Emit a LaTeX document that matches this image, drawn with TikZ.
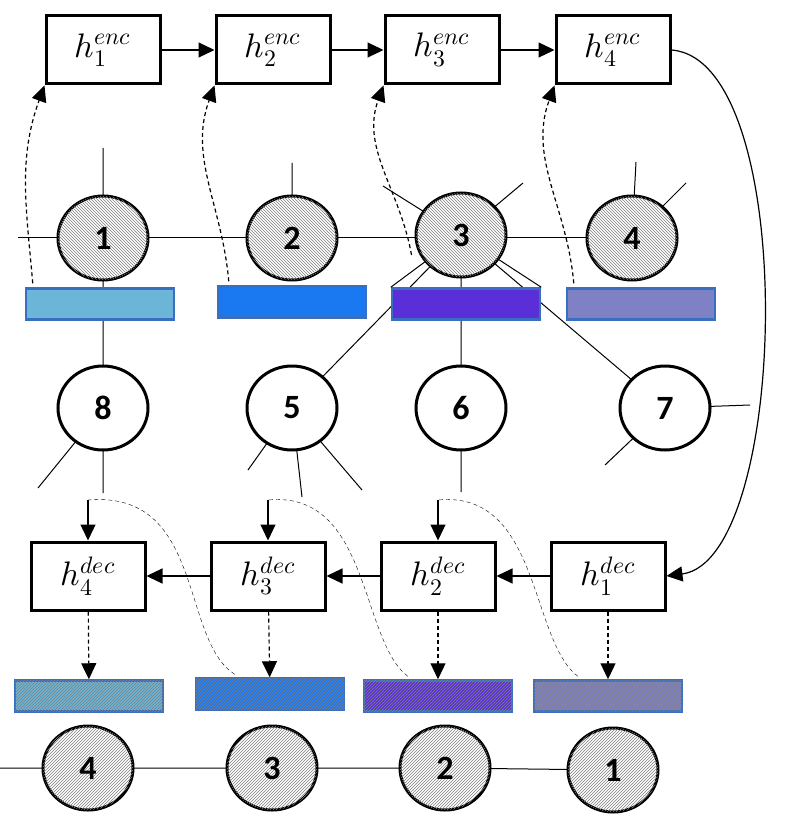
\documentclass[tikz,border=0pt]{standalone}
\usepackage{fontspec}
\usepackage{unicode-math}
\newfontfamily\numfont{Carlito}
\usetikzlibrary{patterns,arrows.meta,shapes.geometric}
\definecolor{barA}{HTML}{6BB5D8}
\definecolor{barB}{HTML}{1A78F0}
\definecolor{barC}{HTML}{5A2FD8}
\definecolor{barD}{HTML}{7E82C4}
\definecolor{barEdge}{HTML}{3A6FC0}
\tikzset{
  hbox/.style={draw,fill=white,line width=3pt,minimum width=114pt,minimum height=68pt,inner sep=0pt,font=\fontsize{34}{36}\selectfont},
  tok/.style={draw,fill=white,line width=3pt,ellipse,minimum width=90pt,minimum height=84pt,inner sep=0pt,font=\numfont\bfseries\fontsize{34}{36}\selectfont},
  etok/.style={tok,postaction={pattern={north west lines},pattern color=gray}},
  dtok/.style={tok,postaction={pattern={north east lines},pattern color=gray}},
  bar/.style={draw=barEdge,line width=2.5pt,minimum width=148pt,minimum height=31pt,inner sep=0pt},
  dbar/.style={bar,postaction={pattern={north east lines},pattern color=gray}},
  arr/.style={-{Triangle[length=16pt,width=15pt]},line width=1.2pt},
  darr/.style={arr,dash pattern=on 4pt off 3pt},
  edge/.style={line width=1pt},
}
\begin{document}
\begin{tikzpicture}[x=1pt,y=-1pt]
  \useasboundingbox (0,0) rectangle (785,834);
  % encoder
  \node[hbox] (e1) at (103,50) {$h_{1}^{enc}$};
  \node[hbox] (e2) at (273,50) {$h_{2}^{enc}$};
  \node[hbox] (e3) at (442,50) {$h_{3}^{enc}$};
  \node[hbox] (e4) at (613,50) {$h_{4}^{enc}$};
  \draw[arr] (e1) -- (e2);
  \draw[arr] (e2) -- (e3);
  \draw[arr] (e3) -- (e4);

  % input graph
  %stubs
  \coordinate (l0) at (18,237);
  \coordinate (s1) at (103,148);
  \coordinate (s2) at (292,163);
  \coordinate (s3a) at (383,186);
  \coordinate (s3b) at (523,183);
  \coordinate (s4a) at (636,162);
  \coordinate (s4b) at (686,183);
  \coordinate (s7a) at (750,405);
  \coordinate (s7b) at (605,465);
  \coordinate (s8a) at (38,488);
  \coordinate (s8b) at (103,493);
  \coordinate (s5a) at (248,470);
  \coordinate (s5b) at (302,497);
  \coordinate (s5c) at (362,490);
  \coordinate (s6) at (461,492);
  %edges
  \draw[edge] (l0) -- (632,237);
  \draw[edge] (103,237) -- (s1) (292,237) -- (s2) (461,235) -- (s3a) (461,235) -- (s3b)
    (632,237) -- (s4a) (632,237) -- (s4b);
  \draw[edge] (103,238) -- (103,408) (461,235) -- (292,408) (461,235) -- (461,408)
    (461,235) -- (665,408);
  \draw[edge] (665,408) -- (s7a) (665,408) -- (s7b) (103,408) -- (s8a) (103,408) -- (s8b)
    (292,408) -- (s5a) (292,408) -- (s5b) (292,408) -- (s5c) (461,408) -- (s6);
  %bars
  \node[bar,fill=barA] (b1) at (100,304) {};
  \node[bar,fill=barB] (b2) at (292,302) {};
  \node[bar,fill=barC] (b3) at (466,304) {};
  \node[bar,fill=barD] (b4) at (641,304) {};
  %nodes
  \node[etok] (n1) at (103,238) {1};
  \node[etok] (n2) at (292,238) {2};
  \node[etok] (n3) at (461,235) {3};
  \node[etok] (n4) at (632,238) {4};
  \node[tok] (n8) at (103,408) {8};
  \node[tok] (n5) at (292,408) {5};
  \node[tok] (n6) at (461,408) {6};
  \node[tok] (n7) at (665,408) {7};
  \draw[edge] (n3) -- (b3.north west) (n3) -- (b3.north east);
  %attention
  \draw[darr] (b1.north west) ++(8,-4) coordinate (a1) to[out=95,in=250] (e1.south west);
  \draw[darr] (b2.north west) ++(12,-4) coordinate (a2) to[out=95,in=250] (e2.south west);
  \draw[darr] (n3.west) ++(-3,20) coordinate (a3) to[out=100,in=250] (e3.south west);
  \draw[darr] (b4.north west) ++(8,-4) coordinate (a4) to[out=95,in=250] (e4.south west);

  % decoder
  \node[hbox] (d4) at (88,576) {$h_{4}^{dec}$};
  \node[hbox] (d3) at (268,576) {$h_{3}^{dec}$};
  \node[hbox] (d2) at (438,576) {$h_{2}^{dec}$};
  \node[hbox] (d1) at (608,576) {$h_{1}^{dec}$};
  \draw[arr] (d1) -- (d2);
  \draw[arr] (d2) -- (d3);
  \draw[arr] (d3) -- (d4);
  \draw[arr] (e4.east) .. controls (800,60) and (790,560) .. (d1.east);
  %inputs
  \coordinate (i4) at (88,500);
  \coordinate (i3) at (268,500);
  \coordinate (i2) at (438,500);
  \draw[arr] (i4) -- (d4.north);
  \draw[arr] (i3) -- (d3.north);
  \draw[arr] (i2) -- (d2.north);
  %outputs
  \node[dbar,fill=barA] (o4) at (89,696) {};
  \node[dbar,fill=barB] (o3) at (270,694) {};
  \node[dbar,fill=barC] (o2) at (438,696) {};
  \node[dbar,fill=barD] (o1) at (608,696) {};
  \draw[darr] (d4) -- (o4);
  \draw[darr] (d3) -- (o3);
  \draw[darr] (d2) -- (o2);
  \draw[darr] (d1) -- (o1);
  \draw[dash pattern=on 4pt off 3pt,thin] (o3.north west) ++(40,-3) .. controls (180,640) and (205,490) .. (i4);
  \draw[dash pattern=on 4pt off 3pt,thin] (o2.north west) ++(45,-3) .. controls (360,640) and (370,490) .. (i3);
  \draw[dash pattern=on 4pt off 3pt,thin] (o1.north west) ++(45,-3) .. controls (530,640) and (540,490) .. (i2);
  % output sequence
  \coordinate (r0) at (0,768);
  \draw[edge] (r0) -- (445,768) -- (613,770);
  \node[dtok] (m4) at (88,768) {4};
  \node[dtok] (m3) at (272,768) {3};
  \node[dtok] (m2) at (445,768) {2};
  \node[dtok] (m1) at (613,770) {1};
\end{tikzpicture}
\end{document}
